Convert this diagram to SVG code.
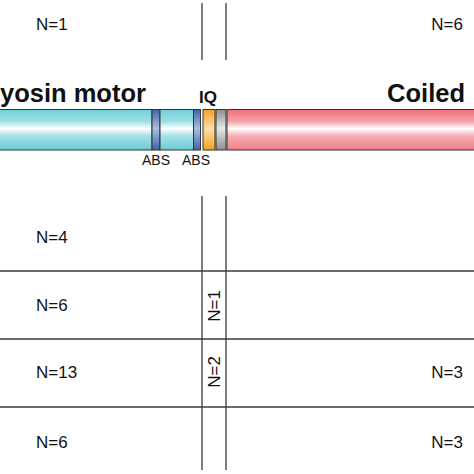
<svg xmlns="http://www.w3.org/2000/svg" width="474" height="474" viewBox="0 0 474 474">
<defs>
<linearGradient id="gCyan" x1="0" y1="0" x2="0" y2="1">
<stop offset="0" stop-color="#6ecfd9"/><stop offset="0.3" stop-color="#9fe0e6"/><stop offset="0.47" stop-color="#ffffff"/><stop offset="0.65" stop-color="#a6e2e8"/><stop offset="1" stop-color="#6cc9d4"/>
</linearGradient>
<linearGradient id="gRed" x1="0" y1="0" x2="0" y2="1">
<stop offset="0" stop-color="#ef6f78"/><stop offset="0.3" stop-color="#f5a3a8"/><stop offset="0.47" stop-color="#ffffff"/><stop offset="0.65" stop-color="#f6b0b5"/><stop offset="1" stop-color="#ef7f88"/>
</linearGradient>
<linearGradient id="gBlue" x1="0" y1="0" x2="0" y2="1">
<stop offset="0" stop-color="#3f64a8"/><stop offset="0.47" stop-color="#a9bfe2"/><stop offset="1" stop-color="#3f64a8"/>
</linearGradient>
<linearGradient id="gOrange" x1="0" y1="0" x2="0" y2="1">
<stop offset="0" stop-color="#f5a022"/><stop offset="0.47" stop-color="#fde0a8"/><stop offset="1" stop-color="#f5a022"/>
</linearGradient>
<linearGradient id="gGray" x1="0" y1="0" x2="0" y2="1">
<stop offset="0" stop-color="#8e8e8e"/><stop offset="0.47" stop-color="#e6e6e6"/><stop offset="1" stop-color="#8e8e8e"/>
</linearGradient>
</defs>
<style>
.ln{stroke:#3a3a3a;stroke-width:1.3;fill:none}
.seg{stroke:#333;stroke-width:1}
.n{font-family:"Liberation Sans",Arial,sans-serif;font-size:17px;fill:#111}
.nr{font-family:"Liberation Sans",Arial,sans-serif;font-size:17px;fill:#111;text-anchor:end}
.b{font-family:"Liberation Sans",Arial,sans-serif;font-weight:bold;fill:#111}
.abs{font-family:"Liberation Sans",Arial,sans-serif;font-size:14px;fill:#111}
</style>
<rect width="474" height="474" fill="#fff"/>
<g id="connectors">
<line class="ln" x1="202" y1="3" x2="202" y2="60"/>
<line class="ln" x1="226" y1="3" x2="226" y2="60"/>
<line class="ln" x1="202" y1="196" x2="202" y2="470"/>
<line class="ln" x1="226" y1="196" x2="226" y2="470"/>
<line class="ln" x1="0" y1="271" x2="474" y2="271"/>
<line class="ln" x1="0" y1="339" x2="474" y2="339"/>
<line class="ln" x1="0" y1="407" x2="474" y2="407"/>
</g>
<g id="protein-bar">
<rect class="seg" x="-2" y="109.5" width="154" height="40.5" fill="url(#gCyan)"/>
<rect class="seg" x="152" y="109.5" width="8" height="40.5" fill="url(#gBlue)"/>
<rect class="seg" x="160" y="109.5" width="33.5" height="40.5" fill="url(#gCyan)"/>
<rect class="seg" x="193.5" y="109.5" width="7" height="40.5" fill="url(#gBlue)"/>
<rect class="seg" x="203" y="109.5" width="12" height="40.5" fill="url(#gOrange)"/>
<rect class="seg" x="216" y="109.5" width="10" height="40.5" fill="url(#gGray)"/>
<rect class="seg" x="227" y="109.5" width="250" height="40.5" fill="url(#gRed)"/>
</g>
<g id="labels-bar">
<text class="b" x="0" y="102" font-size="25.5">yosin motor</text>
<text class="b" x="465" y="102" font-size="25.5" text-anchor="end">Coiled</text>
<text class="b" x="199" y="103" font-size="17">IQ</text>
<text class="abs" x="142" y="165">ABS</text>
<text class="abs" x="182" y="165">ABS</text>
</g>
<g id="row1"><text class="n" x="36" y="30">N=1</text><text class="nr" x="463" y="30">N=6</text></g>
<g id="row2"><text class="n" x="36" y="243">N=4</text></g>
<g id="row3"><text class="n" x="36" y="311">N=6</text><text class="n" transform="translate(220,306) rotate(-90)" text-anchor="middle" x="0" y="0">N=1</text></g>
<g id="row4"><text class="n" x="36" y="378">N=13</text><text class="n" transform="translate(220,372) rotate(-90)" text-anchor="middle" x="0" y="0">N=2</text><text class="nr" x="463" y="378">N=3</text></g>
<g id="row5"><text class="n" x="36" y="448">N=6</text><text class="nr" x="463" y="448">N=3</text></g>
</svg>
